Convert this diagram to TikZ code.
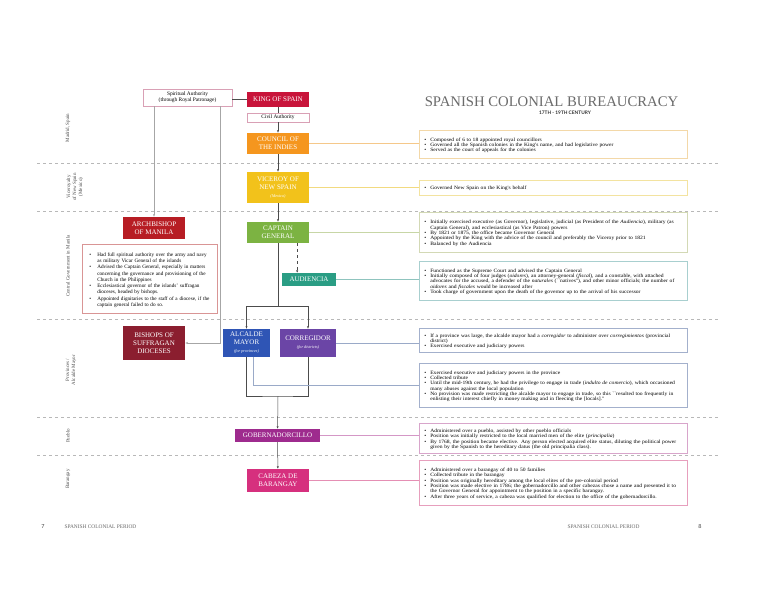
\documentclass[tikz,border=0pt]{standalone}
\usepackage{fontspec}
\setmainfont{Liberation Serif}
\newfontfamily\headsans{Lato}
\newfontfamily\notefont[FakeStretch=1.12]{Liberation Serif}
\usetikzlibrary{arrows.meta}
\definecolor{kingred}{HTML}{C8143A}
\definecolor{councilorange}{HTML}{F5961E}
\definecolor{viceroyyellow}{HTML}{F2C21B}
\definecolor{captaingreen}{HTML}{7CB342}
\definecolor{audteal}{HTML}{2A9D84}
\definecolor{archred}{HTML}{B71D24}
\definecolor{bishopred}{HTML}{8B1E2F}
\definecolor{alcaldeblue}{HTML}{2F55B5}
\definecolor{corrpurple}{HTML}{6B45A6}
\definecolor{gobpurple}{HTML}{9E2B8E}
\definecolor{cabezapink}{HTML}{D6307E}
\definecolor{pinkline}{HTML}{D9A0B5}
\definecolor{councilnote}{HTML}{F3D8A8}
\definecolor{viceroynote}{HTML}{F3E3A0}
\definecolor{captainnote}{HTML}{D3D9B5}
\definecolor{audnote}{HTML}{A8CFCF}
\definecolor{provnote}{HTML}{A3B0CC}
\definecolor{gobnote}{HTML}{D8A5CB}
\definecolor{cabezanote}{HTML}{E79FBD}
\definecolor{archnoteline}{HTML}{D99595}
\definecolor{councillink}{HTML}{F5C88A}
\definecolor{viceroylink}{HTML}{F2DA80}
\definecolor{captainlink}{HTML}{C7D6A6}
\definecolor{audlink}{HTML}{8FC4BE}
\definecolor{provlink}{HTML}{9AAAC8}
\definecolor{goblink}{HTML}{D497C6}
\definecolor{cabezalink}{HTML}{E58FB4}
\hyphenpenalty=10000
\exhyphenpenalty=10000
\newcommand{\itm}[1]{\par\rightskip=4pt plus 2em\hangindent=8pt\hangafter=1\noindent\hspace*{2pt}\makebox[6pt][l]{\textbullet}#1\par}
\newcommand{\itmw}[1]{\par\hangindent=8pt\hangafter=1\noindent\makebox[8pt][l]{\textbullet}#1\par}

\begin{document}
\begin{tikzpicture}[x=1pt, y=-1pt, >={Latex[length=2.4pt,width=2.2pt]},
	box/.style={fill=#1, text=white, align=center, inner sep=1pt, minimum width=62pt, font=\fontsize{7}{8}\selectfont},
	thinbox/.style={draw=pinkline, fill=white, line width=0.6pt, align=center, inner sep=1pt, font=\fontsize{5.4}{6.2}\selectfont},
	link/.style={draw=black!70, line width=0.5pt},
	spirit/.style={draw=black!35, line width=0.9pt},
	sep/.style={draw=black!28, dash pattern=on 3pt off 3pt, line width=0.5pt},
	notebox/.style 2 args={draw=#1, fill=white, line width=0.6pt, anchor=north west, minimum width=268pt, minimum height=#2, text width=262pt, inner xsep=3pt, inner ysep=1pt, align=left, font=\notefont\fontsize{5}{5.3}\selectfont},
	tonote/.style={draw=#1, line width=0.6pt},
	secl/.style={rotate=90, align=center, text=black!70, font=\fontsize{5}{6}\selectfont}]
	\fill[white] (0,0) rectangle (768,594);
	\useasboundingbox (0,0) rectangle (768,594);

	\draw[sep] (37,163) -- (720,163) (37,211) -- (720,211) (37,319) -- (720,319) (37,417) -- (720,417) (37,455) -- (720,455);

	\node[secl] (madrid) at (68,128) {Madrid, Spain};
	\node[secl] (newspain) at (75,187) {Viceroyalty\\of New Spain\\(Mexico)};
	\node[secl] (manila) at (68,266) {Central Government in Manila};
	\node[secl] (provinces) at (71,370) {Provinces /\\Alcalde Mayor};
	\node[secl] (pueblo) at (68,436) {Pueblo};
	\node[secl] (barangay) at (68,479) {Barangay};

	\node[text=black!58, font=\fontsize{14.7}{16}\selectfont] (title) at (551.5,102) {SPANISH COLONIAL BUREAUCRACY};
	\node[text=black!80, font=\headsans\bfseries\fontsize{4.8}{5}\selectfont] (subtitle) at (565,113) {17TH - 19TH CENTURY};

	\node[box=kingred, minimum height=15pt] (king) at (278,99.5) {KING OF SPAIN};
	\node[thinbox, minimum width=89pt, minimum height=17pt] (spiritual) at (187.5,97.5) {Spiritual Authority\\(through Royal Patronage)};
	\node[thinbox, minimum width=62pt, minimum height=9pt] (civil) at (278,117.5) {Civil Authority};
	\node[box=councilorange, minimum height=21pt] (council) at (278,143.5) {COUNCIL OF\\THE INDIES};
	\node[box=viceroyyellow, minimum height=31pt] (viceroy) at (278,187.5) {VICEROY OF\\NEW SPAIN\\{\itshape\fontsize{4.2}{5}\selectfont (Mexico)}};
	\node[box=captaingreen, minimum height=21pt] (captain) at (278,232.5) {CAPTAIN\\GENERAL};
	\node[box=audteal, minimum width=54pt, minimum height=13pt] (audiencia) at (309,279.5) {AUDIENCIA};
	\node[box=archred, minimum height=22pt] (archbishop) at (154,228) {ARCHBISHOP\\OF MANILA};
	\node[box=bishopred, minimum height=34pt] (bishops) at (154,343) {BISHOPS OF\\SUFFRAGAN\\DIOCESES};
	\node[box=alcaldeblue, minimum width=47pt, minimum height=28pt] (alcalde) at (246.5,343) {ALCALDE\\MAYOR\\{\itshape\fontsize{4.2}{5}\selectfont (for provinces)}};
	\node[box=corrpurple, minimum width=56pt, minimum height=28pt] (corregidor) at (308,343) {CORREGIDOR\\{\itshape\fontsize{4.2}{5}\selectfont (for districts)}};
	\node[box=gobpurple, minimum width=85pt, minimum height=13pt] (gobern) at (277.5,435.5) {GOBERNADORCILLO};
	\node[box=cabezapink, minimum height=23pt] (cabeza) at (278,480.5) {CABEZA DE\\BARANGAY};

	\node[notebox={councilnote}{28pt}] (n1) at (419,130) {\itm{Composed of 6 to 18 appointed royal councillors}\itm{Governed all the Spanish colonies in the King's name, and had legislative power}\itm{Served as the court of appeals for the colonies}};
	\node[notebox={viceroynote}{15pt}] (n2) at (419,180) {\itm{Governed New Spain on the King's behalf}};
	\node[notebox={captainnote}{40pt}] (n3) at (419,212) {\itm{Initially exercised executive (as Governor), legislative, judicial (as President of the \textit{Audiencia}), military (as Captain General), and ecclesiastical (as Vice Patron) powers}\itm{By 1821 or 1875, the office became Governor General}\itm{Appointed by the King with the advice of the council and preferably the Viceroy prior to 1821}\itm{Balanced by the Audiencia}};
	\node[notebox={audnote}{39pt}] (n4) at (419,261) {\itm{Functioned as the Supreme Court and advised the Captain General}\itm{Initially composed of four judges (\textit{oidores}), an attorney-general (\textit{fiscal}), and a constable, with attached advocates for the accused, a defender of the \textit{naturales} (``natives''), and other minor officials; the number of \textit{oidores} and \textit{fiscales} would be increased after}\itm{Took charge of government upon the death of the governor up to the arrival of his successor}};
	\node[notebox={provnote}{24pt}] (n5) at (419,328) {\itm{If a province was large, the alcalde mayor had a \textit{corregidor} to administer over \textit{corregimientos} (provincial district)}\itm{Exercised executive and judiciary powers}};
	\node[notebox={provnote}{44pt}] (n6) at (419,363) {\itm{Exercised executive and judiciary powers in the province}\itm{Collected tribute}\itm{Until the mid-19th century, he had the privilege to engage in trade (\textit{indulto de comercio}), which occasioned many abuses against the local population}\itm{No provision was made restricting the alcalde mayor to engage in trade, so this ``resulted too frequently in enlisting their interest chiefly in money making and in fleecing the [locals].''}};
	\node[notebox={gobnote}{30pt}] (n7) at (419,423) {\itm{Administered over a pueblo, assisted by other pueblo officials}\itm{Position was initially restricted to the local married men of the elite (\textit{principalia})}\itm{By 1768, the position became elective. Any person elected acquired elite status, diluting the political power given by the Spanish to the hereditary datus (the old principalia class).}};
	\node[notebox={cabezanote}{45pt}] (n8) at (419,460) {\itm{Administered over a barangay of 40 to 50 families}\itm{Collected tribute in the barangay}\itm{Position was originally hereditary among the local elites of the pre-colonial period}\itm{Position was made elective in 1786; the gobernadorcillo and other cabezas chose a name and presented it to the Governor General for appointment to the position in a specific barangay.}\itm{After three years of service, a cabeza was qualified for election to the office of the gobernadorcillo.}};
	\node[notebox={archnoteline}{69pt}, minimum width=135pt, text width=121pt, inner xsep=7pt, font=\fontsize{5.2}{6.3}\selectfont] (archnote) at (82,244) {\itmw{Had full spiritual authority over the army and navy as military Vicar General of the islands}\itmw{Advised the Captain General, especially in matters concerning the governance and provisioning of the Church in the Philippines}\itmw{Ecclesiastical governor of the islands' suffragan dioceses, headed by bishops.}\itmw{Appointed dignitaries to the staff of a diocese, if the captain general failed to do so.}};

	\draw[link] (king.west) -- (king.west -| spiritual.east);
	\draw[link] (king) -- (civil);
	\draw[link,->] (civil) -- (council);
	\draw[link,->] (council) -- (viceroy);
	\draw[link,->] (viceroy) -- (captain);
	\coordinate (split) at (278,306);
	\draw[link] (captain) -- (split);
	\draw[link,->] (split) -| (alcalde);
	\draw[link,->] (split) -| (corregidor);
	\draw[link,dashed,->] (captain.south east) ++(-12,0) coordinate (cgd) -- (cgd |- audiencia.north);
	\coordinate (merge) at (278,396);
	\draw[link] (alcalde.south) |- (merge) -| (corregidor.south);
	\draw[link,->] (merge) -- (gobern);
	\draw[link,->] (gobern) -- (cabeza);

	\coordinate (sp2) at (220,0);
	\draw[spirit,->] (spiritual.south -| archbishop) -- (archbishop);
	\draw[spirit,->] (spiritual.south -| sp2) |- (bishops.east);

	\draw[tonote=councillink] (council.east) -- (council.east -| n1.west);
	\draw[tonote=viceroylink] (viceroy.east) -- (viceroy.east -| n2.west);
	\draw[tonote=captainlink] (captain.east) -- (captain.east -| n3.west);
	\draw[tonote=audlink] (audiencia.east) -- (audiencia.east -| n4.west);
	\draw[tonote=provlink] (corregidor.east) -- (corregidor.east -| n5.west);
	\draw[tonote=provlink] (alcalde.south) ++(7,0) coordinate (al6) |- (n6.west);
	\draw[tonote=goblink] (gobern.east) -- (gobern.east -| n7.west);
	\draw[tonote=cabezalink] (cabeza.east) -- (cabeza.east -| n8.west);

	\node[text=black!75, font=\headsans\fontsize{5.5}{6}\selectfont] (pagel) at (43,527) {7};
	\node[text=black!60, anchor=west, font=\fontsize{5.4}{6}\selectfont] (footl) at (61,527) {SPANISH COLONIAL PERIOD};
	\node[text=black!60, anchor=east, font=\fontsize{5.4}{6}\selectfont] (footr) at (643,527) {SPANISH COLONIAL PERIOD};
	\node[text=black!75, font=\headsans\fontsize{5.5}{6}\selectfont] (pager) at (700,527) {8};
\end{tikzpicture}
\end{document}
